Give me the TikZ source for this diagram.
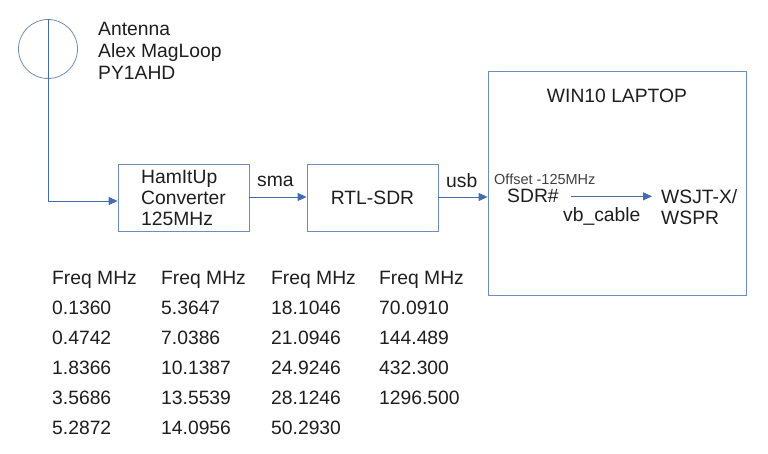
\documentclass[tikz,border=0pt]{standalone}
\usepackage{fontspec}
\setmainfont{Liberation Sans}
\usetikzlibrary{arrows.meta}
\definecolor{linec}{RGB}{68,108,176}
\definecolor{boxc}{RGB}{112,140,188}
\definecolor{txt}{RGB}{30,30,30}
\tikzset{
  txtn/.style={inner sep=0pt, text=txt, font=\fontsize{19.3}{21.5}\selectfont},
  smalltxt/.style={inner sep=0pt, text=txt!85, font=\fontsize{14.5}{16}\selectfont},
  boxn/.style={draw=boxc, line width=0.8pt, inner sep=0pt, minimum width=131pt, minimum height=67pt, text=txt, font=\fontsize{19.3}{21}\selectfont},
  arr/.style={draw=linec, line width=0.9pt, -{Triangle[length=9pt,width=8pt]}},
  wire/.style={draw=linec, line width=0.9pt},
}
\begin{document}
\begin{tikzpicture}[x=1pt,y=-1pt]
\useasboundingbox (0,0) rectangle (768,454);
% antenna
\node[circle, draw=boxc, line width=0.8pt, minimum size=59pt, inner sep=0pt] (ant) at (48,49) {};
\node[txtn, anchor=base west, align=left, font=\fontsize{19.3}{22}\selectfont] (anttxt) at (98,80) {Antenna\\Alex MagLoop\\PY1AHD};
% boxes
\node[boxn, align=left] (ham) at (183.5,197.5) {HamItUp\\Converter\\125MHz};
\node[boxn] (rtl) at (372.5,197.5) {RTL-SDR};
\node[draw=boxc, line width=0.8pt, minimum width=258pt, minimum height=224pt, inner sep=0pt] (laptop) at (617,183) {};
\node[txtn, anchor=base] (wintxt) at (617,103) {WIN10 LAPTOP};
% connectors
\draw[wire] (ant.north) -- (ant.north |- 0,201);
\draw[arr] (ant.north |- 0,201) -- ([yshift=-3.5pt]ham.west);
\draw[arr] ([yshift=0.5pt]ham.east) -- ([yshift=0.5pt]rtl.west);
\draw[arr] ([yshift=0.5pt]rtl.east) -- ([yshift=0.5pt]rtl.east -| laptop.west);
\node[txtn, anchor=base west] (sma) at (257,187) {sma};
\node[txtn, anchor=base west] (usb) at (446,188) {usb};
% laptop contents
\node[smalltxt, anchor=base west] (offset) at (494,185) {Offset -125MHz};
\node[txtn, anchor=base west] (sdr) at (507,203) {SDR\#};
\node[txtn, anchor=base west, align=left] (wsjt) at (661,225) {WSJT-X/\\WSPR};
\node[txtn, anchor=base west] (vb) at (563,222) {vb\_cable};
\draw[arr, shorten <=12pt, shorten >=9pt] (sdr.east) -- (sdr.east -| wsjt.west);
% table
\foreach \c/\x/\a/\b/\cc/\d/\e in {
  1/52/0.1360/0.4742/1.8366/3.5686/5.2872,
  2/161/5.3647/7.0386/10.1387/13.5539/14.0956,
  3/271/18.1046/21.0946/24.9246/28.1246/50.2930,
  4/379/70.0910/144.489/432.300/1296.500/{}}{
  \node[txtn, anchor=base west] (h\c) at (\x,284) {Freq MHz};
  \node[txtn, anchor=base west] (r\c a) at (\x,314) {\a};
  \node[txtn, anchor=base west] (r\c b) at (\x,344) {\b};
  \node[txtn, anchor=base west] (r\c c) at (\x,374) {\cc};
  \node[txtn, anchor=base west] (r\c d) at (\x,404) {\d};
  \node[txtn, anchor=base west] (r\c e) at (\x,434) {\e};
}
\end{tikzpicture}
\end{document}
